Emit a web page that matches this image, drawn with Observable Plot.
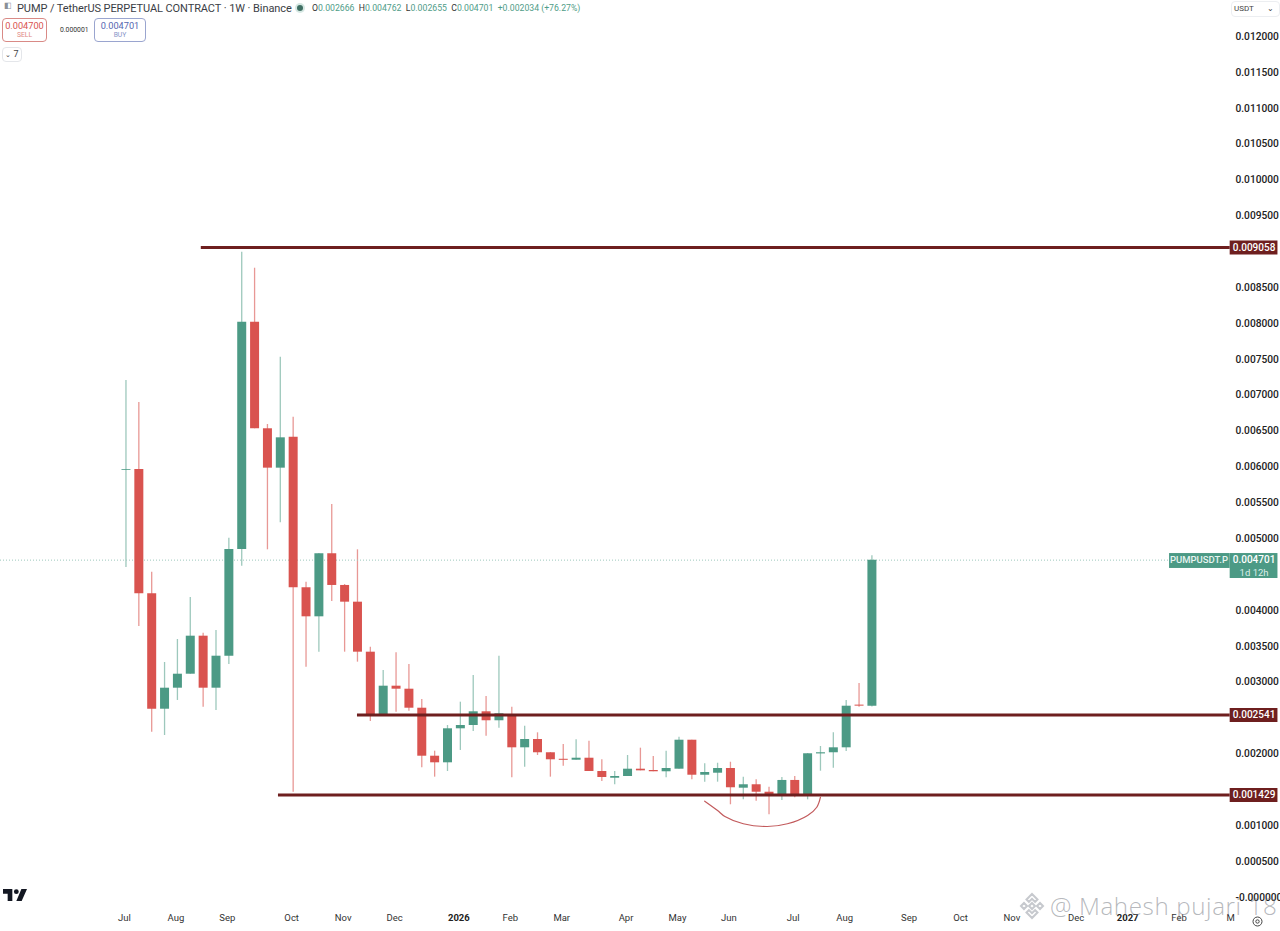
<!DOCTYPE html>
<html>
<head>
<meta charset="utf-8">
<script src="https://cdn.jsdelivr.net/npm/d3@7"></script>
<script src="https://cdn.jsdelivr.net/npm/@observablehq/plot@0.6"></script>
<style>
  html, body { margin: 0; padding: 0; background: #fff; }
  #stage { position: relative; width: 1280px; height: 931px; overflow: hidden; font-family: Roboto, sans-serif; }
  #stage svg.plot { position: absolute; left: 0; top: 0; }
  .ov { position: absolute; white-space: nowrap; }
  .box { position: absolute; box-sizing: border-box; border-radius: 4px; background: #fff; text-align: center; }
</style>
</head>
<body>
<div id="stage">
  <div id="chart"></div>
  <div class="ov" style="left:4px;top:1px;font-size:8px;color:#8a8f98">&#9703;</div>
  <div class="ov" style="left:17px;top:0.5px;font-size:11px;letter-spacing:-0.08px;line-height:15px;color:#3a3d45">PUMP / TetherUS PERPETUAL CONTRACT · 1W · Binance</div>
  <div class="ov" style="left:297px;top:5px;width:6px;height:6px;border-radius:50%;background:#3f6f63;box-shadow:0 0 0 2px #d6e8e3"></div>
  <div class="ov" style="left:312px;top:2px;font-size:8.7px;line-height:12px;color:#4f9d88">
    <span style="color:#333">O</span>0.002666 <span style="color:#333">&nbsp;H</span>0.004762 <span style="color:#333">&nbsp;L</span>0.002655 <span style="color:#333">&nbsp;C</span>0.004701 &nbsp;+0.002034 (+76.27%)
  </div>
  <div class="box" style="left:2px;top:18px;width:45px;height:24px;border:1px solid #d98a86;color:#d9534f;">
    <div style="font-size:9.2px;line-height:11px;margin-top:1px">0.004700</div><div style="font-size:6.8px;line-height:9px;color:#e08783">SELL</div>
  </div>
  <div class="ov" style="left:60px;top:25px;font-size:6.8px;line-height:10px;color:#333">0.000001</div>
  <div class="box" style="left:94px;top:18px;width:52px;height:24px;border:1px solid #9aa5cf;color:#5566b0;">
    <div style="font-size:9.2px;line-height:11px;margin-top:1px">0.004701</div><div style="font-size:6.8px;line-height:9px;color:#8794c8">BUY</div>
  </div>
  <div class="box" style="left:2px;top:47px;width:20px;height:15px;border:1px solid #e4e6ea;font-size:9px;line-height:13px;color:#444"><span style="font-size:7px">&#8964;</span> 7</div>
  <div class="box" style="left:1231px;top:1px;width:49px;height:16px;border:1px solid #eceef1;font-size:8px;line-height:14px;color:#444;text-align:left;padding-left:2px">USDT <span style="margin-left:11px">&#8964;</span></div>

  <svg class="ov" style="left:3px;top:889px" width="24" height="12" viewBox="0 0 36 18"><path fill="#131722" d="M14 18H7V7H0V0h14v18zM28 18h-8l7.6-18H36l-8 18z"/><circle cx="20" cy="4" r="3.6" fill="#131722"/></svg>

  <svg class="ov" style="left:1017px;top:891px;opacity:.8" width="30" height="30" viewBox="0 0 30 30" fill="none" stroke="#b9bcc2" stroke-width="2"><path d="M15 3l5.5 5.5-2.4 2.4L15 7.8l-3.1 3.1-2.4-2.4z"/><path d="M4 15l3-3 3 3-3 3zM20 15l3-3 3 3-3 3z"/><path d="M12 15l3-3 3 3-3 3z"/><path d="M15 27l-5.5-5.5 2.4-2.4 3.1 3.1 3.1-3.1 2.4 2.4z"/></svg>
  <div class="ov" style="left:1050px;top:891px;font-size:24.2px;line-height:30px;font-family:'Open Sans',sans-serif;font-weight:300;color:rgba(120,124,132,.55);letter-spacing:.6px">@ Mahesh pujari 18</div>
  <svg class="ov" style="left:1252px;top:916px" width="11" height="11" viewBox="0 0 11 11" fill="none" stroke="#444"><circle cx="5.5" cy="5.5" r="4.5"/><circle cx="5.5" cy="5.5" r="1.7"/></svg>
</div>
<script>
const firstWeek = "2025-07-07";
const opens = [0.005953,0.005964,0.004232,0.002623,0.002916,0.003111,0.003641,0.002916,0.003362,0.004849,0.008018,0.006532,0.005983,0.006414,0.004316,0.003911,0.004790,0.004348,0.004115,0.003418,0.002522,0.002944,0.002902,0.002637,0.001968,0.001876,0.002350,0.002396,0.002587,0.002462,0.002549,0.002085,0.002201,0.002016,0.001925,0.001912,0.001940,0.001755,0.001661,0.001685,0.001787,0.001769,0.001751,0.001787,0.002191,0.001703,0.001731,0.001797,0.001522,0.001570,0.001466,0.001434,0.001630,0.001434,0.002000,0.002016,0.002085,0.002680,0.002666];
const highs = [0.007205,0.006898,0.004533,0.003274,0.003595,0.004180,0.003683,0.003720,0.005007,0.008994,0.008770,0.006592,0.007530,0.006694,0.004394,0.004794,0.005477,0.004361,0.004845,0.003488,0.003163,0.003410,0.003246,0.002759,0.002038,0.002396,0.002721,0.003093,0.002800,0.003362,0.002651,0.002386,0.002294,0.002020,0.002131,0.002197,0.002177,0.001918,0.001755,0.001978,0.002080,0.001964,0.002038,0.002233,0.002191,0.001862,0.001870,0.001884,0.001676,0.001639,0.001536,0.001671,0.001685,0.002006,0.002103,0.002294,0.002745,0.002982,0.004762];
const lows = [0.004598,0.003776,0.002303,0.002257,0.002745,0.003111,0.002651,0.002605,0.003246,0.004617,0.006532,0.004845,0.005222,0.001466,0.003209,0.003418,0.004125,0.003418,0.003279,0.002452,0.002522,0.002582,0.002596,0.001806,0.001676,0.001755,0.002048,0.002313,0.002247,0.002359,0.001667,0.001815,0.001978,0.001676,0.001829,0.001912,0.001755,0.001616,0.001570,0.001685,0.001764,0.001751,0.001667,0.001787,0.001639,0.001606,0.001606,0.001291,0.001360,0.001341,0.001151,0.001350,0.001388,0.001360,0.001759,0.001801,0.002034,0.002650,0.002655];
const closes = [0.005964,0.004232,0.002623,0.002916,0.003111,0.003641,0.002916,0.003362,0.004849,0.008018,0.006532,0.005983,0.006406,0.004316,0.003911,0.004790,0.004348,0.004115,0.003418,0.002522,0.002944,0.002902,0.002637,0.001968,0.001876,0.002350,0.002396,0.002587,0.002462,0.002559,0.002085,0.002201,0.002016,0.001918,0.001911,0.001940,0.001755,0.001671,0.001685,0.001787,0.001764,0.001751,0.001797,0.002191,0.001703,0.001741,0.001797,0.001528,0.001570,0.001466,0.001420,0.001630,0.001430,0.002002,0.002016,0.002085,0.002665,0.002666,0.004701];

// Horizontal levels drawn on the chart
const levelPrices = [0.009058, 0.002541, 0.001429];
const levelStarts = ["2025-08-17", "2025-11-10", "2025-09-28"];

// Month labels of the time axis
const monthTickDates = ["2025-07-07","2025-08-04","2025-09-01","2025-10-06","2025-11-03","2025-12-01","2026-02-02","2026-03-02","2026-04-06","2026-05-04","2026-06-01","2026-07-06","2026-08-03","2026-09-07","2026-10-05","2026-11-02","2026-12-07","2027-02-01","2027-03-01"];
const monthTickLabels = ["Jul","Aug","Sep","Oct","Nov","Dec","Feb","Mar","Apr","May","Jun","Jul","Aug","Sep","Oct","Nov","Dec","Feb","M"];
const yearTickDates = ["2026-01-05","2027-01-04"];
const yearTickLabels = ["2026","2027"];

// Price axis: ticks hidden behind the price tags are left out, as in the terminal
const priceTicks = [0,0.0005,0.001,0.002,0.003,0.0035,0.004,0.005,0.0055,0.006,0.0065,0.007,0.0075,0.008,0.0085,0.0095,0.01,0.0105,0.011,0.0115,0.012];

// Hand-drawn arc under the lows
const arcDates = ["2026-05-18","2026-05-25","2026-05-29","2026-06-08","2026-06-21","2026-07-02","2026-07-13","2026-07-18","2026-07-20"];
const arcPrices = [0.001341,0.001211,0.001128,0.001026,0.000988,0.001026,0.001142,0.001257,0.001397];

const lastPrice = 0.004701;
const GREEN = "#4c9a85", RED = "#d9534f", MAROON = "#6e1f1f";

const D = s => new Date(s + (s.length === 10 ? "T00:00:00Z" : ""));
const candles = opens.map((o, i) => ({
  date: d3.utcDay.offset(D(firstWeek), i * 7),
  open: o, high: highs[i], low: lows[i], close: closes[i]
}));
const up = candles.filter(c => c.close >= c.open);
const down = candles.filter(c => c.close < c.open);
const levels = levelPrices.map((p, i) => ({price: p, start: D(levelStarts[i]), label: p.toFixed(6)}));
const arc = arcDates.map((d, i) => ({date: D(d), price: arcPrices[i]}));

const tagLeft = D("2027-02-28"), tagRight = D("2027-03-26"), tagMid = D("2027-03-13");
const nameLeft = D("2027-01-26"), nameMid = D("2027-02-11");

const monthFmt = new Map(monthTickDates.map((d, i) => [+D(d), monthTickLabels[i]]));
const yearFmt = new Map(yearTickDates.map((d, i) => [+D(d), yearTickLabels[i]]));

const chart = Plot.plot({
  width: 1280, height: 931,
  marginTop: 0, marginBottom: 31, marginLeft: 0, marginRight: 52,
  style: {background: "#fff", fontFamily: "Roboto, sans-serif", overflow: "visible"},
  x: {type: "utc", domain: [D("2025-04-29T17:00:00Z"), D("2027-02-27T02:00:00Z")], label: null},
  y: {domain: [-0.0000433, 0.0125018], label: null},
  marks: [
    // wicks
    Plot.ruleX(up, {x: "date", y1: "low", y2: "high", stroke: GREEN, strokeOpacity: 0.55, strokeWidth: 1.3}),
    Plot.ruleX(down, {x: "date", y1: "low", y2: "high", stroke: RED, strokeOpacity: 0.6, strokeWidth: 1.3}),
    // last price
    Plot.ruleY([lastPrice], {stroke: "#9cc8bc", strokeWidth: 1, strokeDasharray: "1 2"}),
    // bodies
    Plot.ruleX(up, {x: "date", y1: "open", y2: "close", stroke: GREEN, strokeWidth: 9}),
    Plot.ruleX(down, {x: "date", y1: "open", y2: "close", stroke: RED, strokeWidth: 9}),
    // levels
    Plot.ruleY(levels, {y: "price", x1: "start", x2: tagLeft, stroke: MAROON, strokeWidth: 3}),
    // arc
    Plot.line(arc, {x: "date", y: "price", stroke: "#c25a5c", strokeWidth: 1.2, curve: "catmull-rom"}),
    // axes
    Plot.axisX({ticks: monthTickDates.map(D), tickFormat: d => monthFmt.get(+d), tickSize: 0, tickPadding: 14, dx: -1.5, fontSize: 9.5, fill: "#333", label: null}),
    Plot.axisX({ticks: yearTickDates.map(D), tickFormat: d => yearFmt.get(+d), tickSize: 0, tickPadding: 14, dx: -1.5, fontSize: 9.5, fontWeight: 700, fill: "#222", label: null}),
    Plot.axisY({anchor: "right", ticks: priceTicks, tickFormat: d => d === 0 ? "-0.000000" : d.toFixed(6), tickSize: 0, tickPadding: 7, fontSize: 10.2, fontWeight: 500, fill: "#222", label: null}),
    // level tags
    Plot.ruleY(levels, {y: "price", x1: tagLeft, x2: tagRight, stroke: MAROON, strokeWidth: 14}),
    Plot.text(levels, {x: tagMid, y: "price", text: "label", fill: "#fff", fontSize: 10, fontWeight: 500}),
    // current price tags
    Plot.rect([{x1: nameLeft, x2: tagLeft, y1: 0.004585, y2: 0.004793}], {x1: "x1", x2: "x2", y1: "y1", y2: "y2", fill: GREEN}),
    Plot.rect([{x1: tagLeft, x2: tagRight, y1: 0.004445, y2: 0.004793}], {x1: "x1", x2: "x2", y1: "y1", y2: "y2", fill: GREEN}),
    Plot.text([lastPrice], {x: nameMid, y: d => d, text: () => "PUMPUSDT.P", fill: "#e8f4f1", fontSize: 9.5, fontWeight: 500}),
    Plot.text([lastPrice], {x: tagMid, y: d => d, text: d => d.toFixed(6), fill: "#fff", fontSize: 10, fontWeight: 500}),
    Plot.text([0.004529], {x: tagMid, y: d => d, text: () => "1d 12h", fill: "#dcefe9", fontSize: 9.5})
  ]
});
document.getElementById("chart").appendChild(chart);
</script>
</body>
</html>
